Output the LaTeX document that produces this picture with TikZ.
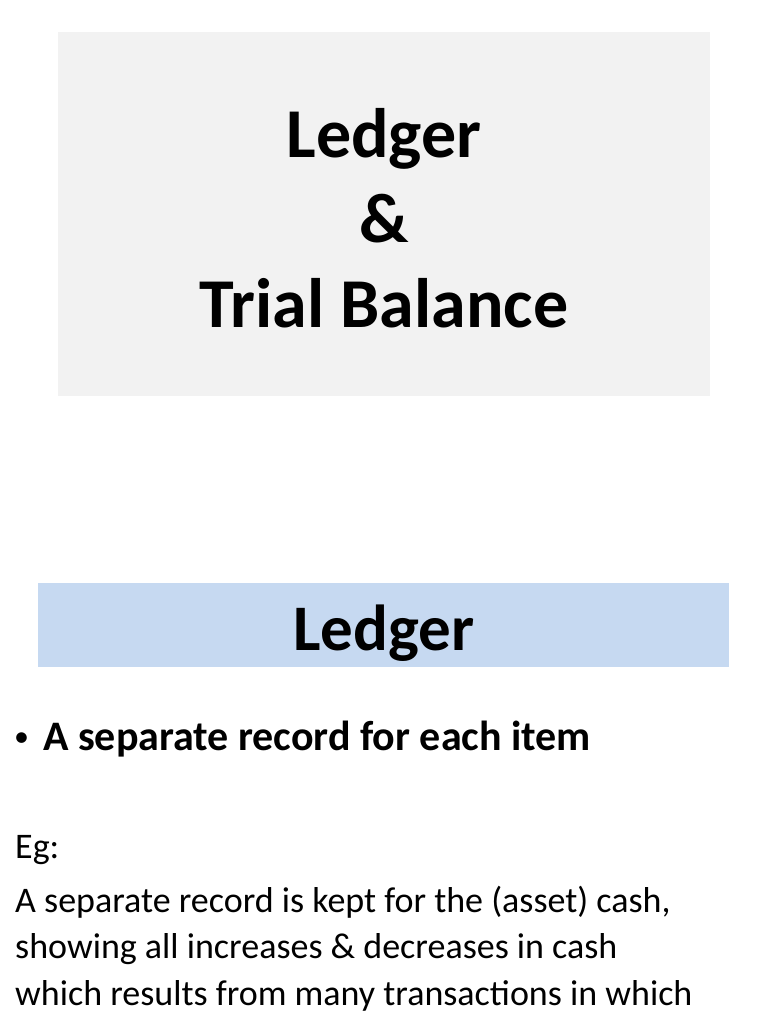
\documentclass[tikz,border=0pt]{standalone}
\usepackage{fontspec}
\setmainfont{Carlito}
\definecolor{graybox}{HTML}{F2F2F2}
\definecolor{bluebox}{HTML}{C6D9F1}
\begin{document}
\begin{tikzpicture}[x=1pt,y=-1pt,
  body/.style={anchor=base west,inner sep=0pt,font=\fontsize{36}{44}\selectfont},
  title/.style={anchor=base,inner sep=0pt,font=\fontsize{70}{84}\selectfont\bfseries}]
\useasboundingbox[fill=white] (0,0) rectangle (768,1024);
\fill[graybox] (58,32) rectangle (710,396);
\node[title] (t1) at (384,158) {Ledger};
\node[title] (t2) at (384,243) {\&};
\node[title] (t3) at (384,327) {Trial Balance};
\fill[bluebox] (38,583) rectangle (729,667);
\node[anchor=base,inner sep=0pt,font=\fontsize{65}{76}\selectfont\bfseries] (h) at (384,650) {Ledger};
\node[body,font=\fontsize{30}{36}\selectfont] (bul) at (14,746) {\textbullet};
\node[body,font=\fontsize{42}{50}\selectfont\bfseries] (b1) at (43,750) {A separate record for each item};
\node[body] (eg) at (15,858) {Eg:};
\node[body] (l1) at (15,912) {A separate record is kept for the (asset) cash,};
\node[body] (l2) at (15,958) {showing all increases \& decreases in cash};
\node[body] (l3) at (15,1005) {which results from many transactions in which};
\end{tikzpicture}
\end{document}
